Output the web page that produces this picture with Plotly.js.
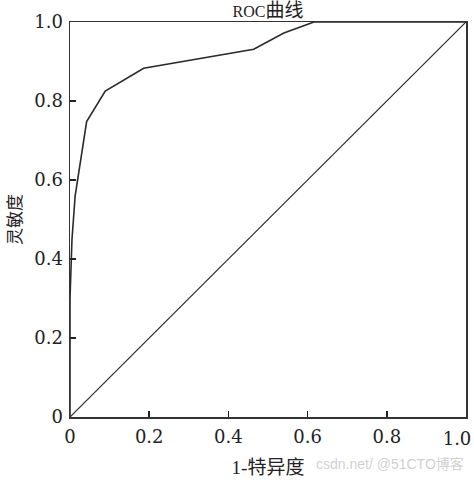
<!DOCTYPE html>
<html>
<head>
<meta charset="utf-8">
<script src="https://cdn.plot.ly/plotly-3.0.1.min.js"></script>
<style>html,body{margin:0;padding:0;background:#fff;}#chart{width:474px;height:481px;}</style>
</head>
<body>
<div id="chart"></div>
<script>
// ROC curve points (1 - specificity, sensitivity)
var fpr = [0, 0, 0.005, 0.013, 0.042, 0.089, 0.186, 0.464, 0.54, 0.616, 1.0];
var tpr = [0, 0.30, 0.45, 0.56, 0.748, 0.825, 0.883, 0.931, 0.972, 1.0, 1.0];
// reference diagonal
var diagX = [0, 1];
var diagY = [0, 1];
var tickVals = [0, 0.2, 0.4, 0.6, 0.8, 1.0];
var xTickText = ["0", "0.2", "0.4", "0.6", "0.8", ""];
var xEndTickVals = [1.0];
var xEndTickText = ["1.0"];
var yTickText = ["0", "0.2", "0.4", "0.6", "0.8", "1.0"];
var titleText = "<span style='font-size:16px'>ROC</span>曲线";
var xTitle = "1-特异度";
var yTitle = "灵敏度";

var serif = "'DejaVu Serif', 'Liberation Serif', serif";
var cjk = "'Liberation Serif', 'Noto Sans CJK SC', serif";
var tickFont = {family: serif, size: 18, color: "#222"};

var traces = [
  {x: fpr, y: tpr, mode: "lines", line: {color: "#2a2a2a", width: 1.6}, hoverinfo: "skip"},
  {x: diagX, y: diagY, mode: "lines", line: {color: "#2a2a2a", width: 1.2}, hoverinfo: "skip"},
  {x: diagX, y: diagY, xaxis: "x2", mode: "lines", line: {color: "rgba(0,0,0,0)", width: 0}, opacity: 0, hoverinfo: "skip"}
];

var axisCommon = {
  range: [0, 1],
  tickmode: "array",
  tickvals: tickVals,
  ticks: "inside",
  ticklen: 6,
  tickwidth: 1.5,
  tickcolor: "#222",
  showline: true,
  linecolor: "#333",
  linewidth: 1.5,
  mirror: true,
  showgrid: false,
  zeroline: false,
  ticklabeloverflow: "allow",
  tickfont: tickFont,
  fixedrange: true
};

var layout = {
  width: 474, height: 481,
  margin: {l: 70, r: 8, t: 22, b: 64},
  paper_bgcolor: "#fff", plot_bgcolor: "#fff",
  showlegend: false,
  title: {text: titleText, font: {family: cjk, size: 19, color: "#222"}, xref: "paper", x: 0.5, xanchor: "center", yref: "container", y: 1 - 10/481, yanchor: "middle"},
  xaxis: Object.assign({}, axisCommon, {ticktext: xTickText, ticklabelstandoff: 3, title: {text: xTitle, font: {family: cjk, size: 19, color: "#222"}, standoff: 14}}),
  xaxis2: {overlaying: "x", side: "bottom", range: [0, 1], tickmode: "array", tickvals: xEndTickVals, ticktext: xEndTickText,
           ticks: "", showline: false, showgrid: false, zeroline: false, ticklabelshift: -9, ticklabelstandoff: 9,
           ticklabeloverflow: "allow", tickfont: tickFont, fixedrange: true},
  yaxis: Object.assign({}, axisCommon, {ticktext: yTickText, ticklabelstandoff: 2, title: {text: yTitle, font: {family: cjk, size: 17, color: "#222"}, standoff: 8}}),
  annotations: [
    {text: "csdn.net/ @51CTO博客", xref: "paper", yref: "paper", x: 1.0, y: -0.12, xanchor: "right", yanchor: "middle", showarrow: false, font: {family: "'Liberation Sans', 'Noto Sans CJK SC', sans-serif", size: 14, color: "rgba(175,175,175,0.6)"}}
  ]
};

Plotly.newPlot("chart", traces, layout, {displayModeBar: false, staticPlot: true});
</script>
</body>
</html>
